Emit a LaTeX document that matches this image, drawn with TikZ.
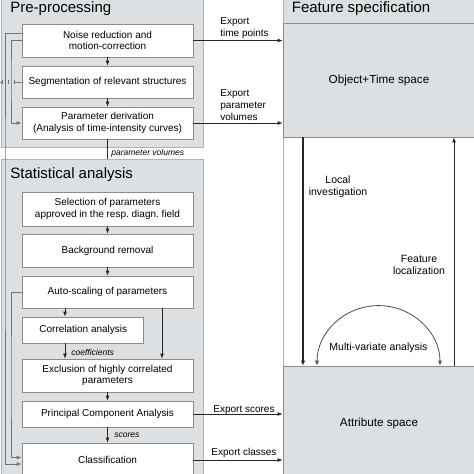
\documentclass[tikz,border=0pt]{standalone}
\usepackage{fontspec}
\setmainfont{Liberation Sans}
\usetikzlibrary{arrows.meta}
\definecolor{panelgray}{HTML}{DCE0E2}
\definecolor{linegray}{HTML}{8C8C8C}
\tikzset{panel/.style={draw=black!30,fill=panelgray,line width=0.8pt,
                       inner sep=0pt,outer sep=0pt,anchor=north west}}
\tikzset{procbox/.style={draw=linegray,fill=white,line width=0.8pt,
                       align=center,inner sep=0pt,minimum width=171pt}}
\tikzset{space/.style={procbox,fill=panelgray,minimum width=192pt,
                       font=\fontsize{11.7}{14}\selectfont}}

\begin{document}
\begin{tikzpicture}[x=1pt,y=-1pt,line width=0.8pt,>={Latex[length=5pt,width=4pt]},
    font=\fontsize{10}{11.7}\selectfont]
    \tikzstyle{title}=[anchor=base west,inner sep=0pt,font=\fontsize{15}{18}\selectfont]
    \tikzstyle{note}=[anchor=west,inner sep=0pt,font=\fontsize{8.5}{10}\selectfont\itshape]
    \tikzstyle{annot}=[align=left,inner sep=0pt]
    \tikzstyle{flow}=[->,draw=black!85]
    \tikzstyle{back}=[->,draw=black!55]

    \useasboundingbox (0,0) rectangle (474,474);
    \clip (0,0) rectangle (474,474);

    % Draw the panels
    \node[panel,minimum width=201.5pt,minimum height=152pt] (pre) at (1.5,-5) {};
    \node[panel,minimum width=201.5pt,minimum height=330pt] (stat) at (1.5,159) {};
    \node[panel,fill=white,minimum width=200pt,minimum height=490pt] (feat) at (283,-5) {};
    \node[panel,minimum width=200pt,minimum height=28pt] (head) at (283,-5) {};
    \node[title] at (10,12.5) {Pre-processing};
    \node[title] at (10,178) {Statistical analysis};
    \node[title] at (291.5,12.5) {Feature specification};

    % Draw the pre-processing steps
    \node[procbox,minimum height=33pt] (noise) at (107.5,40.5) {Noise reduction and\\motion-correction};
    \node[procbox,minimum height=32pt] (seg) at (107.5,82) {Segmentation of relevant structures};
    \node[procbox,minimum height=32pt] (param) at (107.5,123) {Parameter derivation\\(Analysis of time-intensity curves)};

    % Draw the statistical analysis steps
    \node[procbox,minimum height=34pt] (sel) at (107.5,209) {Selection of parameters\\approved in the resp.\ diagn.\ field};
    \node[procbox,minimum height=33pt] (bg) at (107.5,250.5) {Background removal};
    \node[procbox,minimum height=32pt] (auto) at (107.5,292) {Auto-scaling of parameters};
    \node[procbox,minimum width=121pt,minimum height=26pt] (corr) at (83.3,330) {Correlation analysis};
    \node[procbox,minimum height=33pt] (excl) at (107.5,375.5) {Exclusion of highly correlated\\parameters};
    \node[procbox,minimum height=26pt] (pca) at (107.5,414) {Principal Component Analysis};
    \node[procbox,minimum height=34pt] (class) at (107.5,460) {Classification};

    % Draw the two spaces
    \node[space,minimum height=114pt] (ots) at (379,80) {Object+Time space};
    \node[space,minimum height=114pt] (attr) at (379,423) {Attribute space};

    % Connect the steps
    \foreach \source / \dest in {noise/seg,seg/param,sel/bg,bg/auto,excl/pca,pca/class}
        \draw[flow] (\source) -- (\dest);

    \coordinate (colA) at (65,0);
    \coordinate (colB) at (162,0);
    \draw[flow] (auto.south -| colA) -- (corr.north -| colA);
    \draw[flow] (corr.south -| colA) -- (excl.north -| colA);
    \draw[flow] (auto.south -| colB) -- (excl.north -| colB);
    \draw[draw=black!85] (param.south) -- (param.south |- stat.north);

    % Feedback lines on the left
    \coordinate (lineA) at (5,200);
    \coordinate (lineB) at (11,80);
    \coordinate (lineC) at (11,380);
    \coordinate (outA) at ([yshift=7.5pt]noise.west);
    \coordinate (inA) at ([yshift=-4pt]class.west);
    \coordinate (inC) at ([yshift=2.5pt]class.west);
    \draw[back] (outA) -| (lineA) |- (inA);
    \draw[back] (noise.west) -| (lineB) |- (param.west);
    \draw[back] (auto.west) -| (lineC) |- (inC);

    % Segmentation output, hopping over the feedback lines
    \coordinate (segout) at (0,82);
    \draw[draw=black!55,-{Bar[width=4pt]}] (seg.west) -- (13.5,82);
    \draw[draw=black!55,{Bar[width=4pt]}-{Bar[width=4pt]}] (8.5,82) -- (7.5,82);
    \draw[draw=black!55,{Bar[width=4pt]}-] (2.5,82) -- (segout);

    % Export to the feature spaces
    \draw[flow] (noise.east) -- (noise.east -| ots.west);
    \draw[flow] (param.east) -- (param.east -| ots.west);
    \draw[flow] (pca.east) -- (pca.east -| attr.west);
    \draw[flow] (class.east) -- (class.east -| attr.west);
    \node[annot,anchor=south west] (ex1) at (220,38.5) {Export\\time points};
    \node[annot,anchor=south west] (ex2) at (220,120.5) {Export\\parameter\\volumes};
    \node[annot,anchor=south] (ex3) at (244,414.5) {Export scores};
    \node[annot,anchor=south] (ex4) at (244,457.5) {Export classes};

    % Notes on the connectors
    \node[note] at (111,153) {parameter volumes};
    \node[note] at (71,352) {coefficients};
    \node[note] at (114,435.5) {scores};

    % Investigation between the spaces
    \coordinate (li) at (303,0);
    \coordinate (fl) at (454,0);
    \coordinate (mv) at (317,0);
    \draw[flow,line width=1.6pt,>={Latex[length=5pt,width=4.5pt]}] (ots.south -| li) -- (attr.north -| li);
    \draw[flow] (attr.north -| fl) -- (ots.south -| fl);
    \draw[flow,<->,draw=black!70] (attr.north -| mv) arc[start angle=180,end angle=360,x radius=61.5,y radius=60];
    \node[align=center,font=\fontsize{10.5}{12}\selectfont] (loc) at (338,187) {Local\\investigation};
    \node[align=center,font=\fontsize{10.5}{12}\selectfont] (floc) at (419,265) {Feature\\localization};
    \node[font=\fontsize{10.5}{12}\selectfont] (mva) at (378.5,348) {Multi-variate analysis};
\end{tikzpicture}
\end{document}
